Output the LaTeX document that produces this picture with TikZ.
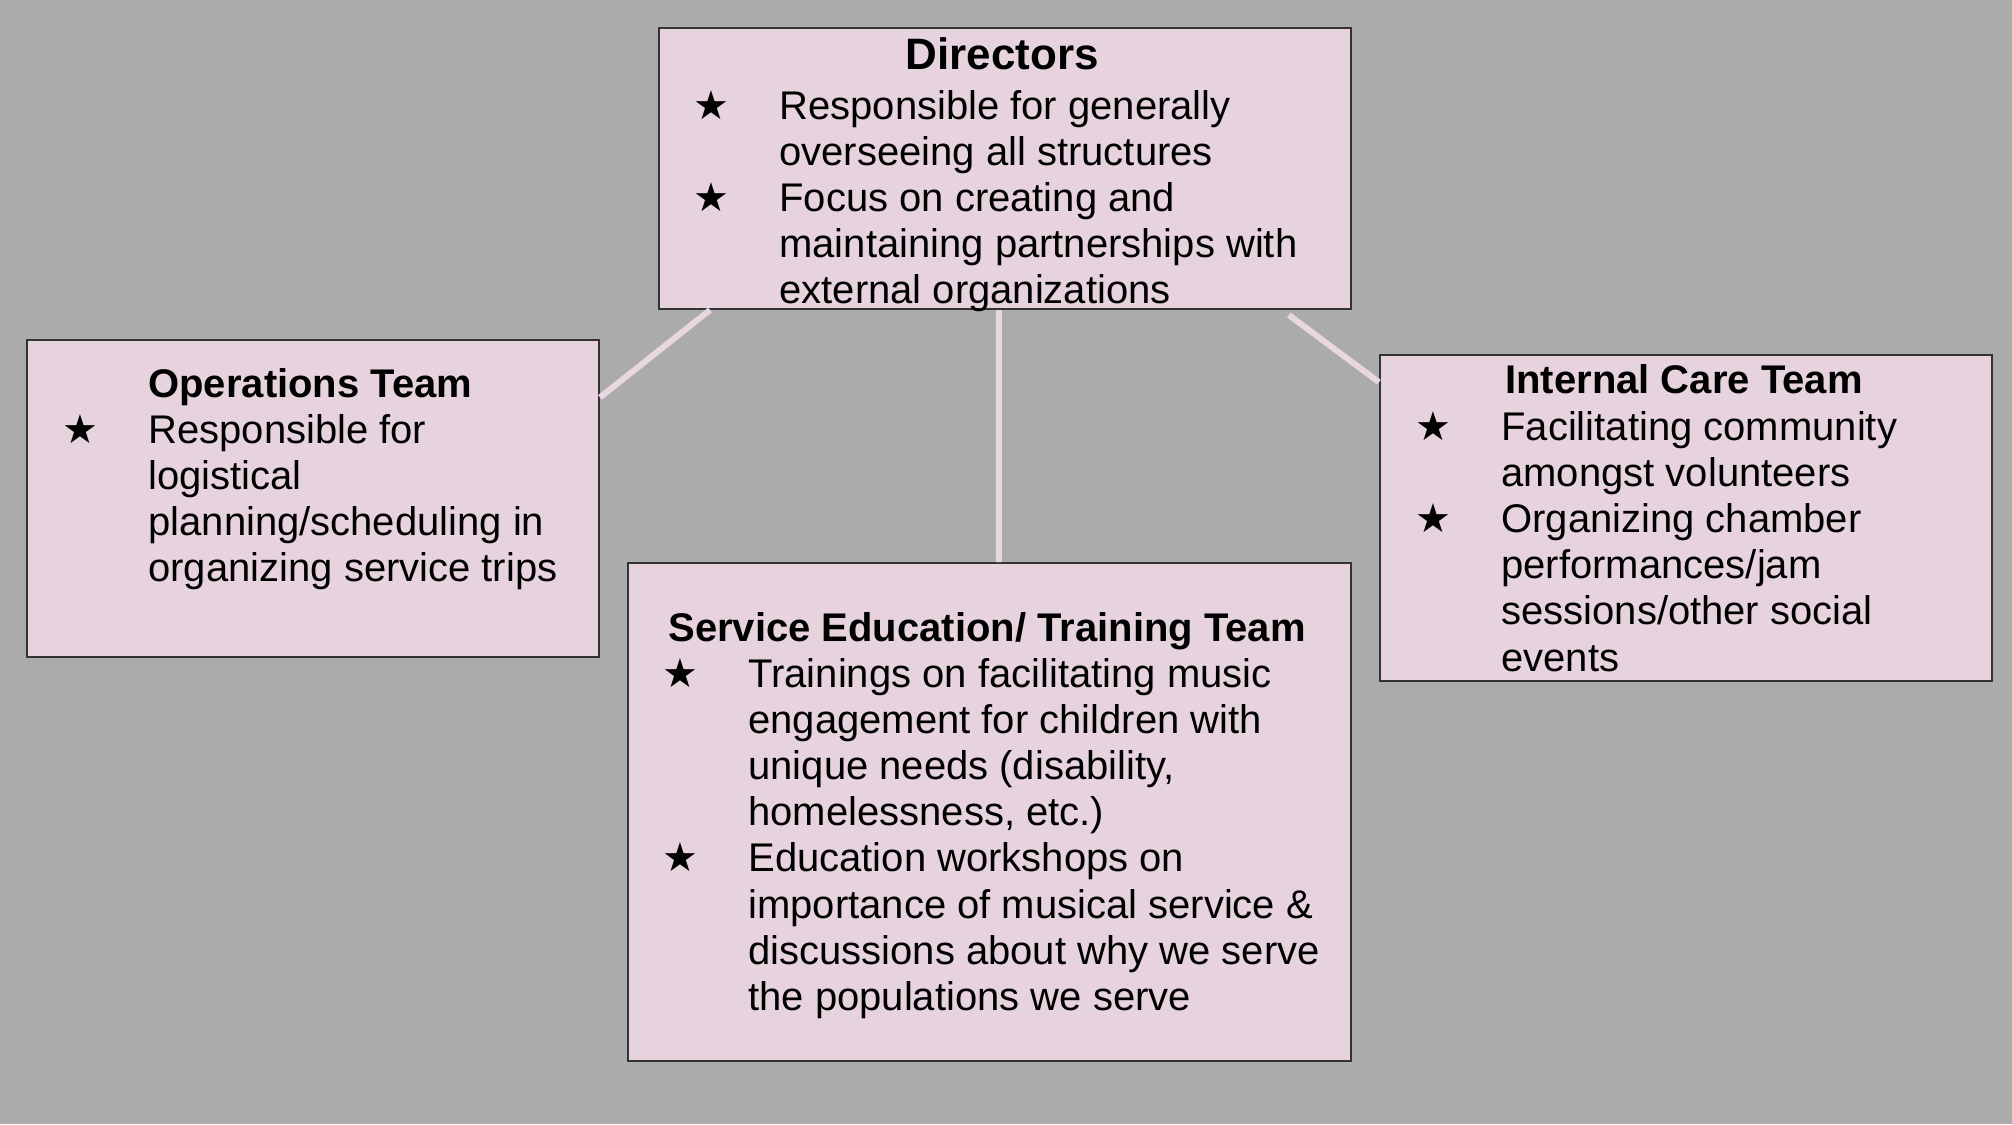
\documentclass[tikz,border=0pt]{standalone}
\usepackage{fontspec}
\setmainfont{Liberation Sans}
\newfontfamily\starfont{DejaVu Sans}
\usetikzlibrary{calc}
\definecolor{bgray}{RGB}{171,171,171}
\definecolor{boxpink}{RGB}{230,211,221}
\definecolor{linkpink}{RGB}{232,214,224}
\definecolor{edgegray}{RGB}{51,51,51}
\newcommand{\bul}{\makebox[34pt][l]{\makebox[0pt]{\starfont ★}}}

\begin{document}
\begin{tikzpicture}[x=0.5pt,y=-0.5pt]
  \tikzstyle{panel}=[rectangle,draw=edgegray,line width=1pt,fill=boxpink,
              inner sep=0pt,anchor=north west]
  \tikzstyle{head}=[font=\fontsize{20}{23.1}\selectfont\bfseries,inner sep=0pt,anchor=base]
  \tikzstyle{items}=[font=\fontsize{20}{23.1}\selectfont,inner sep=0pt,anchor=base west]
  \tikzstyle{link}=[draw=linkpink,line width=3pt]
  \useasboundingbox[fill=bgray] (0,0) rectangle (2012,1124);

    \node [panel,minimum width=346pt,minimum height=140.5pt] (dir) at (658,27) {};
    \node [panel,minimum width=286pt,minimum height=158.5pt] (ops) at (26,339) {};
    \node [panel,minimum width=361.5pt,minimum height=249pt] (edu) at (627,562) {};
    \node [panel,minimum width=306pt,minimum height=163pt] (care) at (1379,354) {};

    \node [head,font=\fontsize{22}{25}\selectfont\bfseries] (dirhead) at (1002,69) {Directors};
    \node [items] (diritems) at (711,119) {\begin{tabular}[t]{@{}l@{}l@{}}
      \bul & Responsible for generally\\
           & overseeing all structures\\
      \bul & Focus on creating and\\
           & maintaining partnerships with\\
           & external organizations
    \end{tabular}};

    \node [head,anchor=base west] (opshead) at (148,397) {Operations Team};
    \node [items] (opsitems) at (80,443) {\begin{tabular}[t]{@{}l@{}l@{}}
      \bul & Responsible for\\
           & logistical\\
           & planning/scheduling in\\
           & organizing service trips
    \end{tabular}};

    \node [head] (eduhead) at (987,641) {Service Education/ Training Team};
    \node [items] (eduitems) at (680,687) {\begin{tabular}[t]{@{}l@{}l@{}}
      \bul & Trainings on facilitating music\\
           & engagement for children with\\
           & unique needs (disability,\\
           & homelessness, etc.)\\
      \bul & Education workshops on\\
           & importance of musical service \&\\
           & discussions about why we serve\\
           & the populations we serve
    \end{tabular}};

    \node [head,anchor=base west] (carehead) at (1505,393) {Internal Care Team};
    \node [items] (careitems) at (1433,440) {\begin{tabular}[t]{@{}l@{}l@{}}
      \bul & Facilitating community\\
           & amongst volunteers\\
      \bul & Organizing chamber\\
           & performances/jam\\
           & sessions/other social\\
           & events
    \end{tabular}};

    \draw [link] ($(dir.south west)!0.075!(dir.south east)$) -- ($(ops.north east)!0.183!(ops.south east)$);
    \draw [link] ($(dir.south west)!0.491!(dir.south east)$) -- ($(edu.north west)!0.513!(edu.north east)$);
    \draw [link] ($(dir.south west)!0.909!(dir.south east)+(0,5)$) -- ($(care.north west)!0.086!(care.south west)$);
\end{tikzpicture}
\end{document}
